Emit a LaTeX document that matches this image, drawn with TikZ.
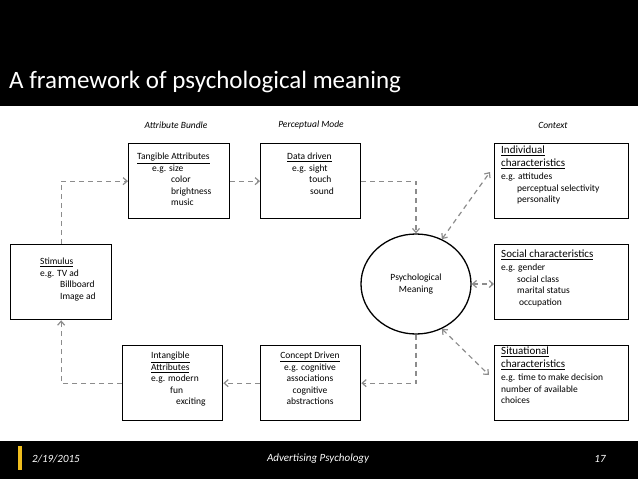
\documentclass[tikz,border=0pt]{standalone}
\usepackage{fontspec}
\setmainfont{Carlito}
\usetikzlibrary{arrows.meta,calc,shapes.geometric}
\definecolor{arr}{RGB}{140,140,140}
\definecolor{gold}{RGB}{240,190,30}
\tikzset{
  box/.style={draw,line width=1.3pt,anchor=north west,inner sep=0pt},
  con/.style={draw=arr,dashed,dash pattern=on 5pt off 4pt,line width=1.2pt,-{Straight Barb[length=4pt,width=7pt]}},
  dcon/.style={con,{Straight Barb[length=4pt,width=7pt]}-{Straight Barb[length=4pt,width=7pt]}},
  txt/.style={font=\fontsize{9.5}{11.5}\selectfont,align=left,anchor=north west,inner sep=0pt},
  hd/.style={font=\fontsize{9.5}{11}\selectfont\itshape},
}
\newcommand{\ul}[1]{\underline{#1}}
\begin{document}
\begin{tikzpicture}[x=1pt,y=-1pt]
\useasboundingbox (0,0) rectangle (638,479);
\fill[black] (0,0) rectangle (638,106);
\fill[black] (0,441) rectangle (638,479);
\fill[gold] (18,446) rectangle (22,470);
\node[anchor=west,text=white,font=\fontsize{25}{28}\selectfont,inner sep=0pt] (title) at (9,82) {A framework of psychological meaning};
\node[text=white,font=\fontsize{11}{12}\selectfont\itshape,anchor=west,inner sep=0pt] (date) at (32,459) {2/19/2015};
\node[text=white,font=\fontsize{11}{12}\selectfont\itshape] (ft) at (318,459) {Advertising Psychology};
\node[text=white,font=\fontsize{11}{12}\selectfont\itshape] (pg) at (600,459) {17};

\node[hd] (h1) at (176,125) {Attribute Bundle};
\node[hd] (h2) at (311,125) {Perceptual Mode};
\node[hd] (h3) at (553,125) {Context};

\node[box,minimum width=101pt,minimum height=75pt] (tan) at (128,143) {};
\node[box,minimum width=100pt,minimum height=75pt] (dat) at (260,143) {};
\node[box,minimum width=101pt,minimum height=75pt] (sti) at (10,244) {};
\node[box,minimum width=100pt,minimum height=75pt] (int) at (122,345) {};
\node[box,minimum width=100pt,minimum height=75pt] (con) at (260,345) {};
\node[box,minimum width=134pt,minimum height=75pt] (ind) at (494,143) {};
\node[box,minimum width=134pt,minimum height=75pt] (soc) at (494,244) {};
\node[box,minimum width=134pt,minimum height=75pt] (sit) at (494,345) {};
\node[draw,line width=1.3pt,ellipse,minimum width=110pt,minimum height=100pt,inner sep=0pt] (pm) at (416,284) {};
\node[font=\fontsize{9.5}{11.5}\selectfont,align=center] (pmt) at (pm.center) {Psychological\\Meaning};

\node[txt] (t1) at (137,153) {\ul{Tangible Attributes}\\\hspace*{15pt}e.g. size\\\hspace*{34pt}color\\\hspace*{34pt}brightness\\\hspace*{34pt}music};
\node[txt] (t2) at (287,153) {\ul{Data driven}\\\hspace*{5pt}e.g. sight\\\hspace*{22pt}touch\\\hspace*{23pt}sound};
\node[txt] (t3) at (40,258) {\ul{Stimulus}\\e.g. TV ad\\\hspace*{20pt}Billboard\\\hspace*{20pt}Image ad};
\node[txt] (t4) at (151,352) {\ul{Intangible}\\\ul{Attributes}\\e.g. modern\\\hspace*{19pt}fun\\\hspace*{25pt}exciting};
\node[txt,align=center,anchor=north] (t5) at (310,352) {\ul{Concept Driven}\\e.g. cognitive\\associations\\cognitive\\abstractions};
\node[txt,font=\fontsize{11}{13}\selectfont] (t6) at (501,146) {\ul{Individual}\\\ul{characteristics}};
\node[txt] (t6b) at (501,173) {e.g. attitudes\\\hspace*{16pt}perceptual selectivity\\\hspace*{16pt}personality};
\node[txt,font=\fontsize{11}{13}\selectfont] (t7) at (501,250) {\ul{Social characteristics}};
\node[txt] (t7b) at (501,264) {e.g. gender\\\hspace*{16pt}social class\\\hspace*{16pt}marital status\\\hspace*{18pt}occupation};
\node[txt,font=\fontsize{11}{13}\selectfont] (t8) at (501,347) {\ul{Situational}\\\ul{characteristics}};
\node[txt] (t8b) at (501,374) {e.g. time to make decision\\number of available\\choices};

\coordinate (e1) at (490,172);
\coordinate (e3) at (489,375);
\draw[con] (sti.north) |- (tan.west);
\draw[con] (tan.east) -- (dat.west);
\draw[con] (dat.east) -| (pm.north);
\draw[con] (pm.south) |- (con.east);
\draw[con] (con.west) -- (int.east);
\draw[con] (int.west) -| (sti.south);
\draw[dcon] (pm.60) -- (e1);
\draw[dcon] (pm.east) -- (pm.east -| soc.west);
\draw[dcon] (pm.-60) -- (e3);
\end{tikzpicture}
\end{document}
